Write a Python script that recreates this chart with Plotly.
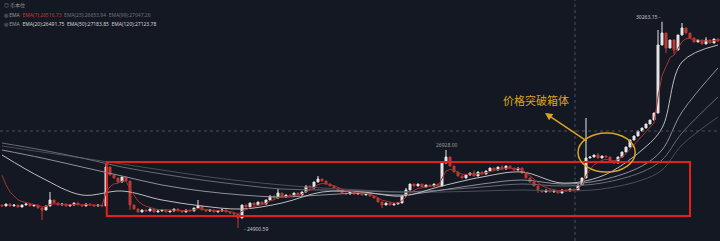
import plotly.graph_objects as go
import pandas as pd

# ---- data (prices) ----
closes = [
    25472, 25524, 25472, 25498, 25446, 25498, 25524, 25472, 25498, 25420,
    25368, 25472, 25628, 25550, 25498, 25524, 25472, 25498, 25550, 25498,
    25472, 25524, 25498, 25472, 25498, 25472, 26486, 26278, 26200, 26096,
    26226, 26122, 25498, 25394, 25316, 25368, 25342, 25394, 25316, 25342,
    25368, 25316, 25342, 25394, 25342, 25316, 25368, 25342, 25420, 25472,
    25368, 25342, 25368, 25316, 25342, 25368, 25316, 25290, 25264, 25160,
    25498, 25446, 25550, 25498, 25576, 25524, 25628, 25732, 25680, 25810,
    25706, 25758, 25732, 25810, 25758, 25836, 25992, 25940, 26096, 26174,
    26122, 26044, 25992, 25940, 25862, 25810, 25784, 25836, 25784, 25810,
    25758, 25784, 25732, 25680, 25576, 25498, 25550, 25498, 25524, 25550,
    25732, 25888, 26044, 25992, 26044, 25966, 26018, 25992, 26044, 25992,
    26590, 26746, 26512, 26356, 26252, 26200, 26278, 26330, 26252, 26356,
    26304, 26382, 26460, 26408, 26486, 26434, 26512, 26460, 26408, 26460,
    26330, 26200, 26096, 25992, 25888, 25836, 25888, 25836, 25862, 25810,
    25888, 25862, 25914, 25888, 26018, 26200, 26720, 26746, 26798, 26720,
    26772, 26746, 26642, 26590, 26746, 26876, 27006, 27188, 27292, 27422,
    27500, 27604, 27708, 27890, 29658, 29970, 29580, 29788, 29528, 29918,
    30100, 29970, 29840, 29736, 29788, 29684, 29788, 29710, 29814, 29762,
]
first_open = 25498
high_wicks = {12: 25836, 26: 26590, 31: 26200, 49: 25628, 69: 25914, 79: 26252,
              101: 25940, 111: 26928, 118: 26400, 125: 26540, 146: 27760,
              149: 26850, 164: 30048, 165: 30263.15, 168: 29800, 170: 30230,
              176: 29860}
low_wicks = {10: 25108, 32: 25368, 59: 24900.59, 95: 25420, 110: 25992,
             134: 25810, 153: 26560, 166: 29450, 168: 29420}
warmup_closes = [26668, 26668, 26668, 26668, 26668]

ma_idx = [0, 10, 20, 30, 40, 50, 60, 70, 80, 90, 100, 110, 120, 130, 140, 150,
          160, 165, 170, 179]
ema20 = [26798, 26200, 25758, 25862, 25628, 25472, 25394, 25550, 25836, 25836,
         25732, 25992, 26226, 26356, 26070, 26252, 26928, 27500, 29216, 29658]
ema50 = [26928, 26720, 26486, 26252, 26018, 25862, 25758, 25706, 25758, 25810,
         25758, 25888, 26044, 26148, 26044, 26148, 26512, 26928, 27916, 29060]
ema120 = [27110, 26928, 26720, 26486, 26304, 26148, 26018, 25914, 25888, 25862,
          25836, 25888, 25966, 26044, 25992, 26070, 26356, 26668, 27370, 28306]
ema200 = [27032, 26876, 26720, 26564, 26408, 26252, 26122, 26018, 25940, 25888,
          25836, 25836, 25862, 25888, 25862, 25914, 26148, 26408, 27058, 27786]

box_x = [26.2, 172]
box_y = [25212, 26616]
ellipse_x = [144, 158.3]
ellipse_y = [26356, 27370]
crosshair_x = 143.25
crosshair_y = 27422
label_text = "价格突破箱体"

# ---- build OHLC ----
n = len(closes)
idx = list(range(n))
opens = [first_open] + closes[:-1]
highs = [max(o, c) for o, c in zip(opens, closes)]
lows = [min(o, c) for o, c in zip(opens, closes)]
for k, v in high_wicks.items():
    highs[k] = max(highs[k], v)
for k, v in low_wicks.items():
    lows[k] = min(lows[k], v)

short_ema = pd.Series(warmup_closes + closes).ewm(span=5, adjust=False).mean().tolist()[len(warmup_closes):]

BG = "#131823"
GOLD = "#d9a521"

fig = go.Figure()
for vals, col, w in [(ema200, "#4a4e58", 1), (ema120, "#686b75", 1),
                     (ema50, "#8e9097", 1), (ema20, "#bdbdbd", 1)]:
    fig.add_trace(go.Scatter(x=ma_idx, y=vals, mode="lines",
                             line=dict(color=col, width=w, shape="spline", smoothing=1.0),
                             hoverinfo="skip", showlegend=False))
fig.add_trace(go.Scatter(x=idx, y=short_ema, mode="lines",
                         line=dict(color="#a83232", width=1),
                         hoverinfo="skip", showlegend=False))
fig.add_trace(go.Candlestick(
    x=idx, open=opens, high=highs, low=lows, close=closes,
    increasing=dict(line=dict(color="#e6e6e6", width=1), fillcolor="#e6e6e6"),
    decreasing=dict(line=dict(color="#c23a32", width=1), fillcolor="#c23a32"),
    whiskerwidth=0, showlegend=False, hoverinfo="skip"))

# crosshair
fig.add_shape(type="line", x0=crosshair_x, x1=crosshair_x, y0=0, y1=1, xref="x", yref="paper",
              line=dict(color="#4a4f59", width=1, dash="dot"))
fig.add_shape(type="line", x0=0, x1=1, y0=crosshair_y, y1=crosshair_y, xref="paper", yref="y",
              line=dict(color="#4a4f59", width=1, dash="dot"))
# box
fig.add_shape(type="rect", x0=box_x[0], x1=box_x[1], y0=box_y[0], y1=box_y[1],
              line=dict(color="#e3201b", width=2))
# ellipse
fig.add_shape(type="circle", x0=ellipse_x[0], x1=ellipse_x[1], y0=ellipse_y[0], y1=ellipse_y[1],
              line=dict(color=GOLD, width=1.5))

# arrow + label
fig.add_annotation(x=135.75, y=27890, ax=146.5, ay=27136, xref="x", yref="y",
                   axref="x", ayref="y", text="", showarrow=True,
                   arrowhead=2, arrowsize=1, arrowwidth=1.5, arrowcolor=GOLD)
fig.add_annotation(x=133.5, y=28228, text=label_text, showarrow=False,
                   font=dict(family="Noto Sans CJK SC", size=11, color=GOLD))

small = dict(family="Noto Sans", size=5, color="#c8c8c8")
fig.add_annotation(x=161.5, y=30386, text="30263.15 -", showarrow=False, font=small)
fig.add_annotation(x=63.5, y=24874, text="- 24900.59", showarrow=False, font=small)
fig.add_annotation(x=111.2, y=27050, text="26928.00", showarrow=False,
                   font=dict(family="Noto Sans", size=5, color="#9a9a9a"))

# header legend
fig.add_annotation(x=2 / 720, y=1 - 5 / 241, xref="paper", yref="paper", xanchor="left",
                   yanchor="middle", text="◎ 币本位", showarrow=False,
                   font=dict(family="Noto Sans CJK SC", size=5, color="#9a9a9a"))
fig.add_annotation(x=2 / 720, y=1 - 15 / 241, xref="paper", yref="paper", xanchor="left",
                   yanchor="middle", showarrow=False,
                   text="◎ EMA  <span style='color:#c23a32'>EMA(7):26516.73</span>  "
                        "<span style='color:#6f727c'>EMA(25):26653.94  EMA(99):27047.26</span>",
                   font=dict(family="Noto Sans", size=5, color="#9a9a9a"))
fig.add_annotation(x=2 / 720, y=1 - 24 / 241, xref="paper", yref="paper", xanchor="left",
                   yanchor="middle", showarrow=False,
                   text="◎ EMA  <span style='color:#d0d0d0'>EMA(20):26491.75  EMA(50):27183.85  EMA(120):27123.78</span>",
                   font=dict(family="Noto Sans", size=5, color="#9a9a9a"))

fig.update_layout(
    width=720, height=241, margin=dict(l=0, r=0, t=0, b=0),
    paper_bgcolor=BG, plot_bgcolor=BG, hovermode=False, showlegend=False,
    xaxis=dict(range=[-0.5, 179.5], visible=False, rangeslider=dict(visible=False),
               showgrid=False, zeroline=False),
    yaxis=dict(range=[24562, 30828], visible=False, showgrid=False, zeroline=False),
)
fig.write_html("out.html")
